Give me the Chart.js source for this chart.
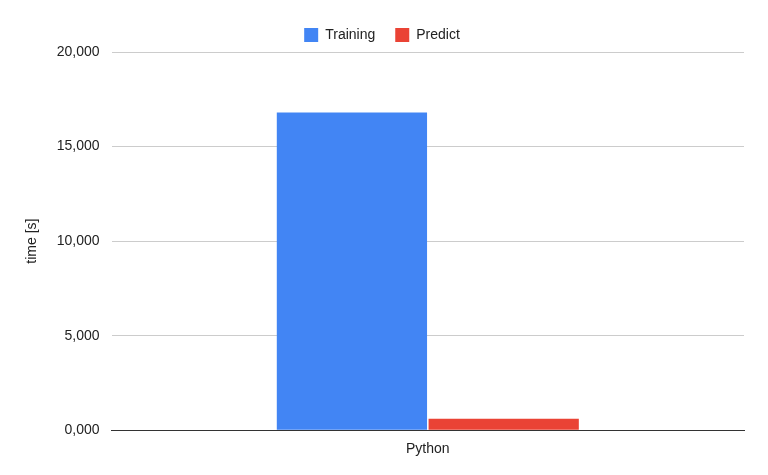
<!DOCTYPE html>
<html>
<head>
<meta charset="utf-8">
<script src="https://cdn.jsdelivr.net/npm/chart.js@4/dist/chart.umd.min.js"></script>
<style>
  html, body { margin: 0; padding: 0; background: #fff; }
  #wrap { width: 768px; height: 475px; }
</style>
</head>
<body>
<div id="wrap"><canvas id="chart"></canvas></div>
<script>
const categories = ['Python']
const trainingValues = [16800]
const predictValues = [600]
const yTicks = [0, 5000, 10000, 15000, 20000]

const fmtTick = v => v === 0 ? '0,000' : v.toLocaleString('en-US')

new Chart(document.getElementById('chart').getContext('2d'), {
  type: 'bar',
  data: {
    labels: categories,
    datasets: [
      { label: 'Training', data: trainingValues, backgroundColor: '#4285f4' },
      { label: 'Predict', data: predictValues, backgroundColor: '#ea4335' },
    ],
  },
  options: {
    responsive: true,
    maintainAspectRatio: false,
    animation: false,
    layout: { padding: { left: 20, right: 24, top: 8, bottom: 14 } },
    categoryPercentage: 0.48,
    barPercentage: 0.99,
    plugins: {
      legend: {
        position: 'top',
        labels: { boxWidth: 14, boxHeight: 14, color: '#222', font: { family: 'Arial, Liberation Sans', size: 14 }, padding: 20 },
      },
      tooltip: { enabled: false },
    },
    scales: {
      x: {
        grid: { display: false },
        border: { color: '#333' },
        ticks: { color: '#222', font: { family: 'Arial, Liberation Sans', size: 14 } },
      },
      y: {
        min: 0,
        max: 20000,
        afterBuildTicks: axis => { axis.ticks = yTicks.map(v => ({ value: v })) },
        grid: { color: '#cccccc', drawTicks: false },
        border: { display: false },
        ticks: { color: '#222', padding: 12, font: { family: 'Arial, Liberation Sans', size: 14 }, callback: fmtTick },
        title: { display: true, text: 'time [s]', color: '#222', font: { family: 'Arial, Liberation Sans', size: 14 } },
      },
    },
  },
})
</script>
</body>
</html>
